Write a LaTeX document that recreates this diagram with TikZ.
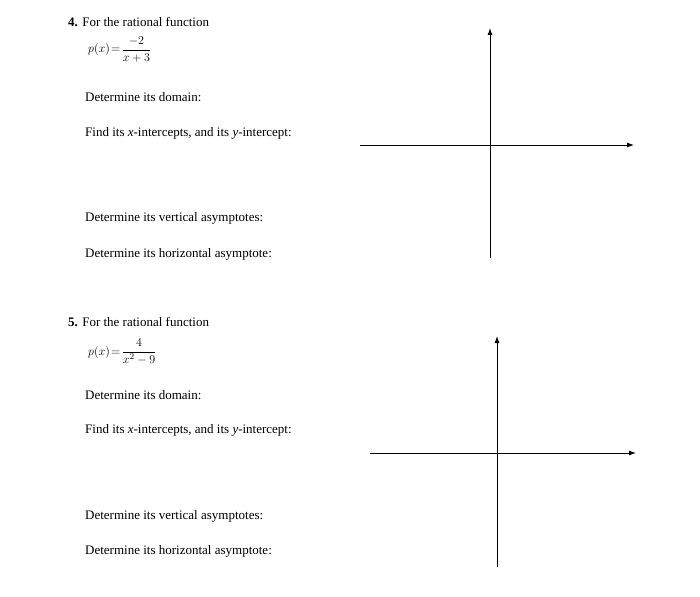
\documentclass[tikz,border=0pt]{standalone}
\usepackage{fontspec}
\setmainfont{Liberation Serif}
\usepackage{amsmath}
\usetikzlibrary{arrows.meta}
\begin{document}
\begin{tikzpicture}[x=1pt,y=-1pt,
  txt/.style={anchor=base west,inner sep=0pt,font=\fontsize{13}{15}\selectfont},
  axis/.style={line width=0.9pt,-{Latex[length=7pt,width=5pt]}}]
\useasboundingbox[fill=white] (0,0) rectangle (700,596);
% problem 4
\node[txt] (t4) at (68,27) {\textbf{4.} For the rational function};
\node[txt] (f4) at (88,53) {$p(x)\!=\!\dfrac{-2}{x+3}$};
\node[txt] (d4) at (85,102) {Determine its domain:};
\node[txt] (i4) at (85,136) {Find its \textit{x}-intercepts, and its \textit{y}-intercept:};
\node[txt] (v4) at (85,221) {Determine its vertical asymptotes:};
\node[txt] (h4) at (85,257) {Determine its horizontal asymptote:};
\coordinate (yb4) at (490,258); \coordinate (yt4) at (490,28);
\coordinate (xl4) at (360,145); \coordinate (xr4) at (634,145);
\draw[axis] (yb4) -- (yt4);
\draw[axis] (xl4) -- (xr4);
% problem 5
\node[txt] (t5) at (68,326) {\textbf{5.} For the rational function};
\node[txt] (f5) at (88,355) {$p(x)\!=\!\dfrac{4}{x^2-9}$};
\node[txt] (d5) at (85,399) {Determine its domain:};
\node[txt] (i5) at (85,433) {Find its \textit{x}-intercepts, and its \textit{y}-intercept:};
\node[txt] (v5) at (85,519) {Determine its vertical asymptotes:};
\node[txt] (h5) at (85,554) {Determine its horizontal asymptote:};
\coordinate (yb5) at (497,567); \coordinate (yt5) at (497,336);
\coordinate (xl5) at (370,453); \coordinate (xr5) at (636,453);
\draw[axis] (yb5) -- (yt5);
\draw[axis] (xl5) -- (xr5);
\end{tikzpicture}
\end{document}
